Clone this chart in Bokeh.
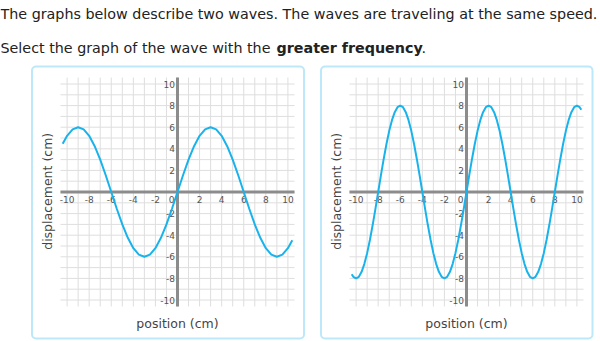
from bokeh.plotting import figure
from bokeh.models import Range1d
from bokeh.core.properties import value
from bokeh.embed import file_html
from bokeh.resources import INLINE
import math

# ---------------- data ----------------
header_line1 = "The graphs below describe two waves. The waves are traveling at the same speed."
header_line2_plain = "Select the graph of the wave with the "
header_line2_bold = "greater frequency"
header_line2_end = "."
x_title = "position (cm)"
y_title = "displacement (cm)"

x_tick_values = [-10, -8, -6, -4, -2, 2, 4, 6, 8, 10]
x_tick_labels = ["-10", "-8", "-6", "-4", "-2", "2", "4", "6", "8", "10"]
y_tick_values = [-10, -8, -6, -4, -2, 2, 4, 6, 8, 10]
y_tick_labels = ["-10", "-8", "-6", "-4", "-2", "2", "4", "6", "8", "10"]
grid_values = [-10, -9, -8, -7, -6, -5, -4, -3, -2, -1, 0, 1, 2, 3, 4, 5, 6, 7, 8, 9, 10]

# left wave (wavelength 12 cm, amplitude 6 cm)
left_x = [-10.4, -10, -9.5, -9, -8.5, -8, -7.5, -7, -6.5, -6, -5.5, -5, -4.5, -4, -3.5, -3,
          -2.5, -2, -1.5, -1, -0.5, 0, 0.5, 1, 1.5, 2, 2.5, 3, 3.5, 4, 4.5, 5, 5.5, 6,
          6.5, 7, 7.5, 8, 8.5, 9, 9.5, 10, 10.4]
left_y = [4.46, 5.20, 5.80, 6.00, 5.80, 5.20, 4.24, 3.00, 1.55, 0.00, -1.55, -3.00, -4.24, -5.20, -5.80, -6.00,
          -5.80, -5.20, -4.24, -3.00, -1.55, 0.00, 1.55, 3.00, 4.24, 5.20, 5.80, 6.00, 5.80, 5.20, 4.24, 3.00, 1.55, 0.00,
          -1.55, -3.00, -4.24, -5.20, -5.80, -6.00, -5.80, -5.20, -4.46]

# right wave (wavelength 8 cm, amplitude 8 cm)
right_x = [-10.4, -10.25, -10, -9.75, -9.5, -9.25, -9, -8.75, -8.5, -8.25,
           -8, -7.75, -7.5, -7.25, -7, -6.75, -6.5, -6.25, -6, -5.75, -5.5, -5.25,
           -5, -4.75, -4.5, -4.25, -4, -3.75, -3.5, -3.25, -3, -2.75, -2.5, -2.25,
           -2, -1.75, -1.5, -1.25, -1, -0.75, -0.5, -0.25, 0,
           0.25, 0.5, 0.75, 1, 1.25, 1.5, 1.75, 2, 2.25, 2.5, 2.75, 3, 3.25, 3.5, 3.75, 4,
           4.25, 4.5, 4.75, 5, 5.25, 5.5, 5.75, 6, 6.25, 6.5, 6.75, 7, 7.25, 7.5, 7.75, 8,
           8.25, 8.5, 8.75, 9, 9.25, 9.5, 9.75, 10, 10.25, 10.4]
right_y = [-7.61, -7.85, -8.00, -7.85, -7.39, -6.65, -5.66, -4.44, -3.06, -1.56,
           0.00, 1.56, 3.06, 4.44, 5.66, 6.65, 7.39, 7.85, 8.00, 7.85, 7.39, 6.65,
           5.66, 4.44, 3.06, 1.56, 0.00, -1.56, -3.06, -4.44, -5.66, -6.65, -7.39, -7.85,
           -8.00, -7.85, -7.39, -6.65, -5.66, -4.44, -3.06, -1.56, 0.00,
           1.56, 3.06, 4.44, 5.66, 6.65, 7.39, 7.85, 8.00, 7.85, 7.39, 6.65, 5.66, 4.44, 3.06, 1.56, 0.00,
           -1.56, -3.06, -4.44, -5.66, -6.65, -7.39, -7.85, -8.00, -7.85, -7.39, -6.65, -5.66, -4.44, -3.06, -1.56, 0.00,
           1.56, 3.06, 4.44, 5.66, 6.65, 7.39, 7.85, 8.00, 7.85, 7.61]

# ---------------- layout / style ----------------
W, H = 600, 341
PX_X = 11.04   # px per cm horizontally
PX_Y = 10.8    # px per cm vertically
Y0_FROM_TOP = 191.5
LIM = 10.6

WAVE_COLOR = "#19b3ec"
GRID_COLOR = "#dedede"
AXIS_COLOR = "#8c8c8c"
LABEL_COLOR = "#555555"
BOX_COLOR = "#bde8fa"
FONT = "DejaVu Sans"
HFONT = "DejaVu Sans"
HSIZE = "14.3px"

p = figure(width=W, height=H, x_range=Range1d(0, W), y_range=Range1d(H, 0),
           output_backend="svg", toolbar_location=None, min_border=0)
p.axis.visible = False
p.grid.visible = False
p.outline_line_color = None
p.background_fill_color = "white"
p.border_fill_color = "white"

ys = -(H - Y0_FROM_TOP) / PX_Y
p.extra_y_ranges = {"w": Range1d(ys, ys + H / PX_Y)}

# header text
p.text(x=[0], y=[13], text=[header_line1], text_font=value(HFONT), text_font_size=HSIZE,
       text_color="#222222", text_align="left", text_baseline="alphabetic")
p.text(x=[0], y=[47], text=[header_line2_plain], text_font=value(HFONT), text_font_size=HSIZE,
       text_color="#222222", text_align="left", text_baseline="alphabetic")
p.text(x=[276], y=[47], text=[header_line2_bold], text_font=value(HFONT), text_font_size=HSIZE,
       text_font_style="bold", text_color="#222222", text_align="left", text_baseline="alphabetic")
p.text(x=[421], y=[47], text=[header_line2_end], text_font=value(HFONT), text_font_size=HSIZE,
       text_color="#222222", text_align="left", text_baseline="alphabetic")

panels = [
    ("L", 31.5, 303.5, 177.0, left_x, left_y),
    ("R", 320.5, 592.0, 466.0, right_x, right_y),
]

for name, bl, br, cx, wx, wy in panels:
    xs = -cx / PX_X
    p.extra_x_ranges[name] = Range1d(xs, xs + W / PX_X)
    kw = dict(x_range_name=name, y_range_name="w")

    # panel box
    p.quad(left=[bl], right=[br], top=[66], bottom=[338], fill_color="white",
           line_color=BOX_COLOR, line_width=2, border_radius=4)

    # grid
    p.segment(x0=grid_values, y0=[-LIM] * len(grid_values), x1=grid_values, y1=[LIM] * len(grid_values),
              line_color=GRID_COLOR, line_width=1, **kw)
    p.segment(x0=[-LIM] * len(grid_values), y0=grid_values, x1=[LIM] * len(grid_values), y1=grid_values,
              line_color=GRID_COLOR, line_width=1, **kw)

    # axes
    p.segment(x0=[0, -LIM], y0=[-LIM, 0], x1=[0, LIM], y1=[LIM, 0],
              line_color=AXIS_COLOR, line_width=3, **kw)

    # tick labels
    p.text(x=x_tick_values, y=[0] * len(x_tick_values), text=x_tick_labels,
           text_font=value(FONT), text_font_size="9px", text_color=LABEL_COLOR,
           text_align="center", text_baseline="middle", y_offset=7, **kw)
    p.text(x=[0], y=[0], text=["0"], text_font=value(FONT), text_font_size="9px",
           text_color=LABEL_COLOR, text_align="right", text_baseline="middle",
           x_offset=-3, y_offset=7, **kw)
    p.text(x=[0] * len(y_tick_values), y=y_tick_values, text=y_tick_labels,
           text_font=value(FONT), text_font_size="9px", text_color=LABEL_COLOR,
           text_align="right", text_baseline="middle", x_offset=-2.5, **kw)

    # wave
    p.line(x=wx, y=wy, line_color=WAVE_COLOR, line_width=2, **kw)

    # axis titles
    p.text(x=[cx], y=[322.5], text=[x_title], text_font=value(FONT), text_font_size="12.5px",
           text_color="#444444", text_align="center", text_baseline="middle")
    p.text(x=[bl + 15], y=[190.8], text=[y_title], text_font=value(FONT), text_font_size="12.5px",
           text_color="#444444", text_align="center", text_baseline="middle", angle=math.pi / 2)

open("out.html", "w").write(file_html(p, INLINE))
